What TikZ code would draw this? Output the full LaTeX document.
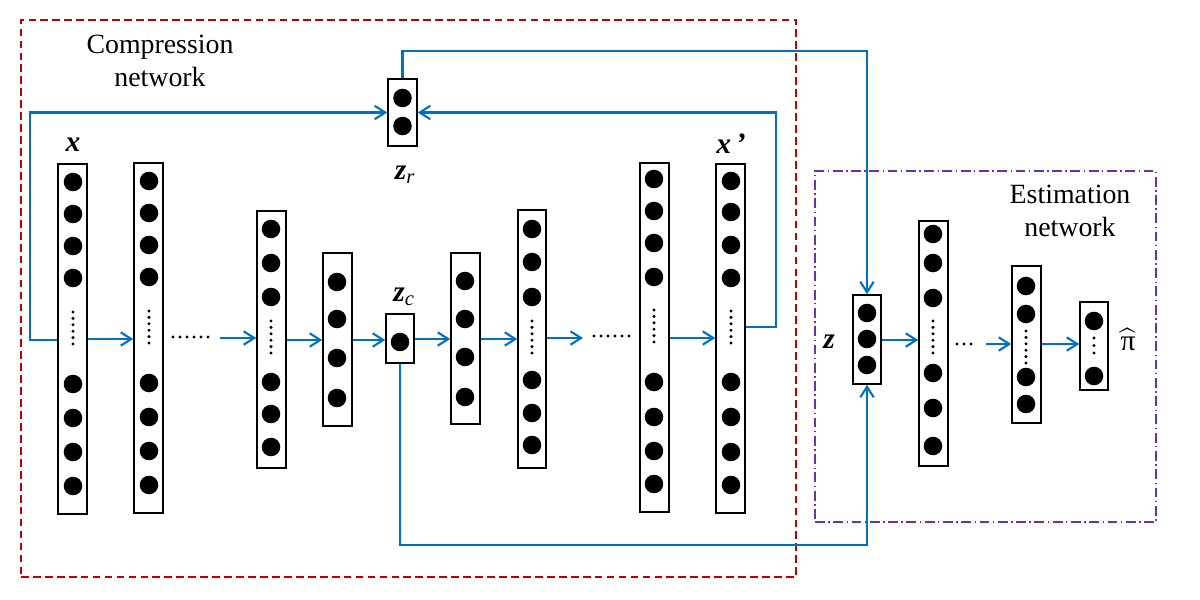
\documentclass[tikz,border=0pt]{standalone}
\usepackage{fontspec}
\usepackage{amsmath}
\setmainfont{Liberation Serif}
\usetikzlibrary{arrows.meta,fit}
\definecolor{lblue}{RGB}{0,112,192}
\definecolor{dred}{RGB}{192,0,0}
\definecolor{dpurple}{RGB}{112,48,160}
\tikzset{
  layerbox/.style={draw=black, line width=1.1pt, inner sep=0pt, fill=white},
  link/.style={draw=lblue, line width=1.5pt},
  arr/.style={link, -{Straight Barb[length=7.5pt,width=9.5pt,line width=1.5pt]}},
  lbl/.style={font=\fontsize{21}{24}\selectfont\bfseries\itshape, inner sep=1pt},
  title/.style={font=\fontsize{19.8}{23.4}\selectfont, align=center},
  compbox/.style={draw=dred, line width=1pt, dash pattern=on 5.5pt off 3pt, inner sep=0pt},
  estbox/.style={draw=dpurple, line width=0.8pt, dash pattern=on 7pt off 2.5pt on 1pt off 2.5pt, inner sep=0pt},
}
\newcommand{\neurons}[2]{\foreach \yy in {#2} \fill (#1,\yy) circle[radius=6.6pt];}
\newcommand{\vdotcol}[3]{\foreach \yy in {#2,...,#3} \fill (#1,\yy) circle[radius=1.2pt];}
\begin{document}
\begin{tikzpicture}[x=0.025cm,y=-0.025cm]
\useasboundingbox (0,0) rectangle (1200,599);
% group boxes
\node[compbox, fit={(21,20)(796,577)}] (comp) {};
\node[estbox, fit={(815,171)(1156,522)}] (est) {};
\node[title] (ctitle) at (160,61) {Compression\\network};
\node[title] (etitle) at (1070,211) {Estimation\\network};

% compression layers
\node[layerbox, fit={(58,164)(87,514)}] (c1) {};
\neurons{73}{182,214,246,278,384,418,452,486}
\vdotcol{73}{312,318.4}{345}
\node[layerbox, fit={(134,163)(163,513)}] (c2) {};
\neurons{149}{181,213,245,277,383,417,451,485}
\vdotcol{149}{311,317.4}{344}
\node[layerbox, fit={(257,211)(286,468)}] (c3) {};
\neurons{271}{229,263,297,382,414,447}
\vdotcol{271}{321,327.4}{354}
\node[layerbox, fit={(323,253)(352,426)}] (c4) {};
\neurons{337}{282,319,358,398}
\node[layerbox, fit={(386,314)(414,363)}] (zc) {};
\neurons{400}{342}
\node[layerbox, fit={(451,253)(480,424)}] (c5) {};
\neurons{465}{281,319,357,397}
\node[layerbox, fit={(518,210)(546,468)}] (c6) {};
\neurons{532}{229,262,297,380,413,445}
\vdotcol{532}{321,327.4}{354}
\node[layerbox, fit={(640,163)(669,512)}] (c7) {};
\neurons{654}{179,211,243,277,382,417,451,484}
\vdotcol{654}{310,316.4}{343}
\node[layerbox, fit={(716,164)(745,513)}] (c8) {};
\neurons{731}{181,212,245,278,382,417,452,485}
\vdotcol{731}{311,317.4}{344}
\node[layerbox, fit={(388,79)(417,146)}] (zr) {};
\neurons{402.5}{98,126}

% estimation layers
\node[layerbox, fit={(853,295)(881,384)}] (z) {};
\neurons{867}{313,339,365}
\node[layerbox, fit={(919,221)(948,466)}] (e1) {};
\neurons{933}{234,263,298,373,408,446}
\vdotcol{933}{321,327.4}{354}
\node[layerbox, fit={(1012,266)(1041,423)}] (e2) {};
\neurons{1026}{286,314,377,404}
\vdotcol{1026}{331,337.4}{364}
\node[layerbox, fit={(1080,302)(1108,390)}] (e3) {};
\neurons{1094}{321,376}
\vdotcol{1094}{338,345.5}{353}

% horizontal ellipses
\foreach \xx in {173,180,...,208} \fill (\xx,337) circle[radius=1.2pt];
\foreach \xx in {594,601,...,629} \fill (\xx,336) circle[radius=1.2pt];
\foreach \xx in {957,964,971} \fill (\xx,344) circle[radius=1.2pt];

% labels
\node[lbl] (lx) at (73,145) {x};
\node[lbl] (lxp) at (731,144) {x\,’};
\node[lbl] (lzr) at (405,175) {z\textsubscript{\normalfont\itshape r}};
\node[lbl] (lzc) at (404,297) {z\textsubscript{\normalfont\itshape c}};
\node[lbl] (lz) at (829,342) {z};
\node[font=\fontsize{21}{24}\selectfont, inner sep=1pt] (lpi) at (1128,340) {$\widehat{\text{π}}$};

% free ends
\coordinate (d1) at (220,338);
\coordinate (d2) at (583,338);
\coordinate (d3) at (986,344);
\coordinate (inl) at (30,340);
\coordinate (fbr) at (776,327);
\coordinate (top) at (402.5,51);
\coordinate (bot) at (400,545);

% forward arrows
\draw[arr] (c1.east) -- (c1.east -| c2.west);
\draw[arr] (d1) -- (d1 -| c3.west);
\draw[arr] (c3.east |- 0,340) -- (c4.west |- 0,340);
\draw[arr] (c4.east |- 0,340) -- (zc.west |- 0,340);
\draw[arr] (zc.east |- 0,339) -- (c5.west |- 0,339);
\draw[arr] (c5.east |- 0,339) -- (c6.west |- 0,339);
\draw[arr] (c6.east |- d2) -- (d2);
\draw[arr] (c7.east |- 0,338) -- (c8.west |- 0,338);
\draw[arr] (z.east |- 0,340) -- (e1.west |- 0,340);
\draw[arr] (d3) -- (d3 -| e2.west);
\draw[arr] (e2.east |- 0,344) -- (e3.west |- 0,344);

% loops
\draw[arr] (c1.west |- inl) -- (inl) |- (zr.west);
\draw[arr] (c8.east |- fbr) -- (fbr) |- (zr.east);
\draw[arr] (zr.north) -- (top) -| (z.north);
\draw[arr] (zc.south) -- (bot) -| (z.south);
\end{tikzpicture}
\end{document}
